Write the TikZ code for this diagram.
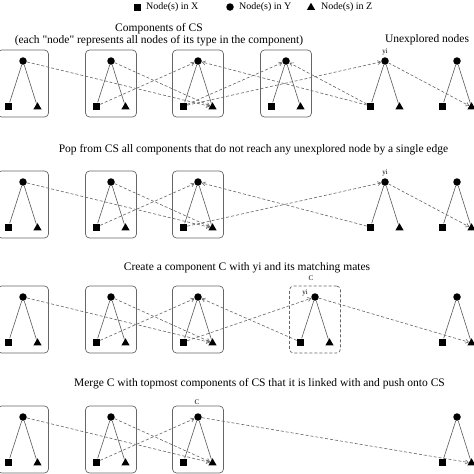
\documentclass[tikz,border=0pt]{standalone}
\usepackage{fontspec}
\setmainfont{Liberation Serif}
\newfontfamily\qfont{Liberation Serif}
\usetikzlibrary{arrows.meta,shapes.geometric,calc}
\newcommand\ctree[3]{%
  \node[ynode] (#1c) at (#2,#3) {};
  \node[xnode] (#1s) at ($(#2,#3)+(-14.5,45)$) {};
  \node[znode] (#1t) at ($(#2,#3)+(14.5,46)$) {};
  \draw[tedge] (#1c) -- (#1s);
  \draw[tedge] (#1c) -- (#1t);
}
\newcommand\cbox[4][compbox]{%
  \node[#1] (#2b) at ($(#3,#4)+(0,22.5)$) {};
}
\begin{document}
\begin{tikzpicture}[x=1pt,y=-1pt,
  ynode/.style={circle,fill=black,inner sep=0,minimum size=7.5},
  xnode/.style={rectangle,fill=black,inner sep=0,minimum size=7},
  znode/.style={regular polygon,regular polygon sides=3,fill=black,inner sep=0,minimum size=9.5},
  tedge/.style={draw=black!65,line width=0.6pt},
  link/.style={draw=black!60,dash pattern=on 3pt off 2pt,line width=0.6pt,-{Straight Barb[length=3pt,width=4pt]}},
  compbox/.style={draw=black!60,rounded corners=4pt,line width=0.7pt,minimum width=51,minimum height=67,inner sep=0},
  dbox/.style={compbox,dash pattern=on 3pt off 2pt},
  title/.style={font=\fontsize{11.5}{12}\selectfont,inner sep=0,align=center},
  legend/.style={font=\fontsize{10}{12}\selectfont,inner sep=0,anchor=west},
  lbl/.style={font=\fontsize{7}{8}\selectfont,inner sep=0},
]
\useasboundingbox (0,0) rectangle (474,474);
\fill[white] (0,0) rectangle (474,474);

% legend
\node[xnode] (lx) at (137,7) {};
\node[legend] (lxt) at (146,7) {Node(s) in X};
\node[ynode] (ly) at (230,7) {};
\node[legend] (lyt) at (239,7) {Node(s) in Y};
\node[znode] (lz) at (311,7.5) {};
\node[legend] (lzt) at (321,7) {Node(s) in Z};

% ---------- row 1
\node[title] (t1) at (159,35) {Components of CS\\(each {\qfont"}node{\qfont"} represents all nodes of its type in the component)};
\node[title] (t1u) at (427,40) {Unexplored nodes};
\cbox{a1}{23}{61}
\cbox{a2}{111}{61}
\cbox{a3}{198}{61}
\cbox{a4}{286}{61}
\ctree{a1}{23}{61}
\ctree{a2}{111}{61}
\ctree{a3}{198}{61}
\ctree{a4}{286}{61}
\ctree{au}{385}{61}
\ctree{av}{457}{61}
\node[lbl] (ayi) at (385,52) {yi};
\draw[link] (a1c) -- (a3t);
\draw[link] (a2c) -- (a3t);
\draw[link] (a2s) -- (a3c);
\draw[link] (aus) -- (a3c);
\draw[link] (a3s) -- (a4c);
\draw[link] (aus) -- (a4c);
\draw[link] (a3s) -- (auc);
\draw[link] (auc) -- (avt);

% ---------- row 2
\node[title] (t2) at (253.5,150) {Pop from CS all components that do not reach any unexplored node by a single edge};
\cbox{b1}{23}{182}
\cbox{b2}{111}{182}
\cbox{b3}{198}{182}
\ctree{b1}{23}{182}
\ctree{b2}{111}{182}
\ctree{b3}{198}{182}
\ctree{bu}{385}{182}
\ctree{bv}{457}{182}
\node[lbl] (byi) at (385,173) {yi};
\draw[link] (b1c) -- (b3t);
\draw[link] (b2c) -- (b3t);
\draw[link] (b2s) -- (b3c);
\draw[link] (bus) -- (b3c);
\draw[link] (b3s) -- (buc);
\draw[link] (buc) -- (bvt);

% ---------- row 3
\node[title] (t3) at (247,268) {Create a component C with yi and its matching mates};
\cbox{c1}{23}{297}
\cbox{c2}{111}{297}
\cbox{c3}{198}{297}
\cbox[dbox]{cu}{315}{297}
\ctree{c1}{23}{297}
\ctree{c2}{111}{297}
\ctree{c3}{198}{297}
\ctree{cu}{315}{297}
\ctree{cv}{457}{297}
\node[lbl] (cC) at (311,278) {C};
\node[lbl] (cyi) at (305,293) {yi};
\draw[link] (c1c) -- (c3t);
\draw[link] (c2c) -- (c3t);
\draw[link] (c2s) -- (c3c);
\draw[link] (cus) -- (c3c);
\draw[link] (c3s) -- (cuc);
\draw[link] (cuc) -- (cvt);

% ---------- row 4
\node[title] (t4) at (259.5,384) {Merge C with topmost components of CS that it is linked with and push onto CS};
\cbox{d1}{23}{417}
\cbox{d2}{111}{417}
\cbox{d3}{198}{417}
\ctree{d1}{23}{417}
\ctree{d2}{111}{417}
\ctree{d3}{198}{417}
\ctree{dv}{457}{417}
\node[lbl] (dC) at (197,402) {C};
\draw[link] (d1c) -- (d3t);
\draw[link] (d2c) -- (d3t);
\draw[link] (d2s) -- (d3c);
\draw[link] (d3c) -- (dvt);
\end{tikzpicture}
\end{document}
